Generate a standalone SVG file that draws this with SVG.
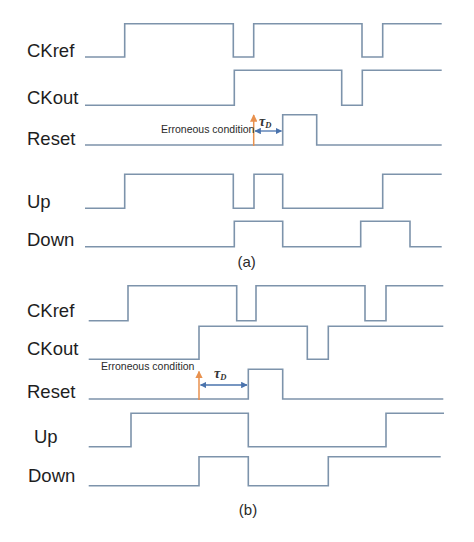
<svg xmlns="http://www.w3.org/2000/svg" width="474" height="542" viewBox="0 0 474 542">
<defs>
<style>
.w{fill:none;stroke:#7d93ab;stroke-width:1.6;stroke-linejoin:miter}
.lbl{font-family:"Liberation Sans",Arial,sans-serif;font-size:18.5px;fill:#1e1e1e}
.err{font-family:"Liberation Sans",Arial,sans-serif;font-size:10.5px;fill:#2a2a2a}
.cap{font-family:"Liberation Sans",Arial,sans-serif;font-size:15px;fill:#2a2a2a;text-anchor:middle}
.td{font-family:"Liberation Serif","Times New Roman",serif;font-style:italic;font-weight:bold;font-size:14px;fill:#333}
.orange{stroke:#e8914e;stroke-width:1.5;fill:none}
.blue{stroke:#4a73ad;stroke-width:1.3;fill:none}
</style>
<marker id="ao" viewBox="0 0 10 10" refX="9" refY="5" markerWidth="5" markerHeight="5" orient="auto"><path d="M0,0 L10,5 L0,10 z" fill="#e8914e"/></marker>
<marker id="ab" viewBox="0 0 10 10" refX="9" refY="5" markerWidth="5" markerHeight="5" orient="auto-start-reverse"><path d="M0,0 L10,5 L0,10 z" fill="#4a73ad"/></marker>
</defs>
<rect width="474" height="542" fill="#fff"/>

<g id="a-ckref"><text class="lbl" x="27" y="57">CKref</text>
<path class="w" d="M85,57 H124.7 V23.7 H233.3 V57 H253.7 V23.7 H362 V57 H382.7 V23.7 H441.7"/></g>
<g id="a-ckout"><text class="lbl" x="27" y="104">CKout</text>
<path class="w" d="M85,105.3 H234.3 V70.3 H341.7 V105.3 H362.3 V70.3 H441.7"/></g>
<g id="a-reset"><text class="lbl" x="27" y="145">Reset</text>
<path class="w" d="M85,145 H282.7 V114.7 H316.7 V145 H441.7"/></g>
<g id="a-up"><text class="lbl" x="27" y="207.5">Up</text>
<path class="w" d="M85,208.3 H124.7 V174.3 H233.3 V208.3 H254 V174.3 H282.7 V208.3 H382.7 V174.3 H441.7"/></g>
<g id="a-down"><text class="lbl" x="27" y="246">Down</text>
<path class="w" d="M85,246.7 H234.3 V221.3 H282.7 V246.7 H360.7 V221.3 H410 V246.7 H441.7"/></g>
<text class="cap" x="246.7" y="267">(a)</text>

<g id="b-ckref"><text class="lbl" x="27" y="316.5">CKref</text>
<path class="w" d="M88.7,320.7 H128 V285.7 H236.7 V320.7 H256 V285.7 H365 V320.7 H386 V285.7 H443.3"/></g>
<g id="b-ckout"><text class="lbl" x="27" y="355">CKout</text>
<path class="w" d="M88.7,359.3 H199 V326.3 H307.3 V359.3 H328.3 V326.3 H443.3"/></g>
<g id="b-reset"><text class="lbl" x="27" y="398">Reset</text>
<path class="w" d="M88.7,399 H248.3 V369.3 H282.7 V399 H443.3"/></g>
<g id="b-up"><text class="lbl" x="34" y="442.5">Up</text>
<path class="w" d="M88.7,446.7 H131 V413.3 H248.3 V446.7 H386 V413.3 H444"/></g>
<g id="b-down"><text class="lbl" x="28" y="481.5">Down</text>
<path class="w" d="M88.7,485.7 H199 V456.7 H248.3 V485.7 H328.3 V456.7 H440.7"/></g>
<text class="cap" x="248" y="515">(b)</text>

<g id="connectors">
<line class="orange" x1="253.7" y1="146" x2="253.7" y2="115" marker-end="url(#ao)"/>
<line class="blue" x1="255" y1="131" x2="281.5" y2="131" marker-start="url(#ab)" marker-end="url(#ab)"/>
<line class="orange" x1="199" y1="400" x2="199" y2="371.5" marker-end="url(#ao)"/>
<line class="blue" x1="200.5" y1="385" x2="247" y2="385" marker-start="url(#ab)" marker-end="url(#ab)"/>
</g>
<text class="err" x="161" y="132.5">Erroneous condition</text>
<text class="td" x="259" y="126">τ<tspan font-size="8.5" dy="2">D</tspan></text>
<text class="err" x="101" y="370">Erroneous condition</text>
<text class="td" x="214" y="378">τ<tspan font-size="8.5" dy="2">D</tspan></text>
</svg>
